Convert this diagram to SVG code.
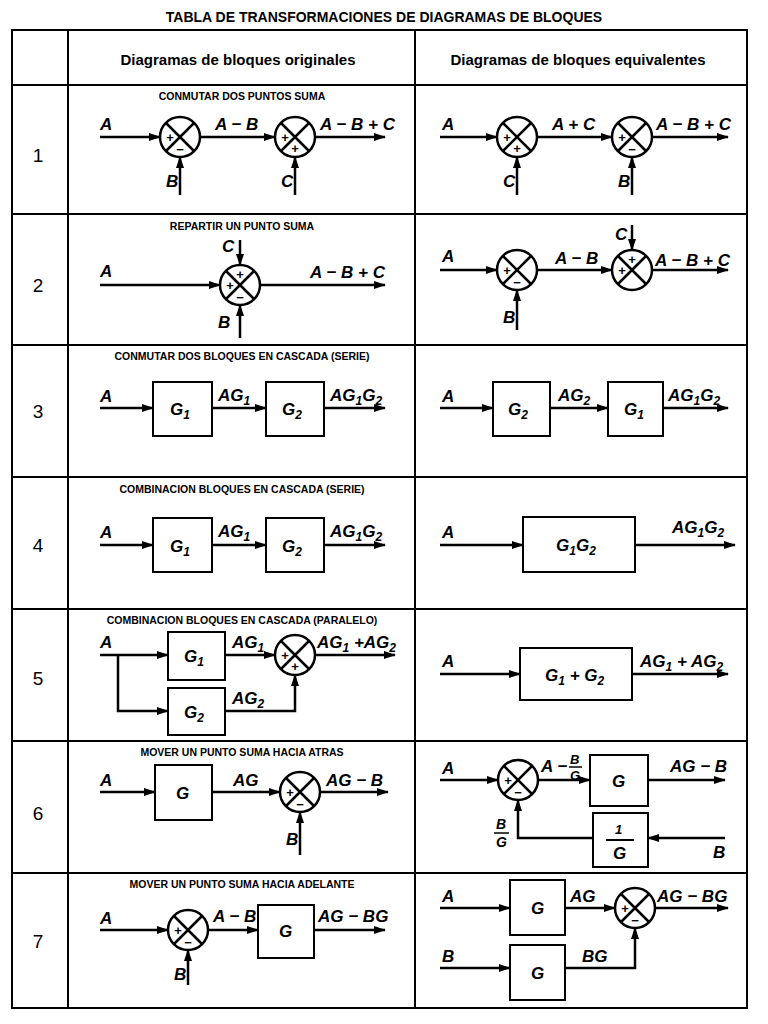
<svg xmlns="http://www.w3.org/2000/svg" width="768" height="1024" viewBox="0 0 768 1024">
<style>
.ln{stroke:#000;stroke-width:2.5;fill:none}
.bx{stroke:#000;stroke-width:2;fill:#fff}
.tb{stroke:#000;stroke-width:2;fill:none}
.l{font-family:"Liberation Sans",Arial,sans-serif;font-style:italic;font-weight:bold;font-size:17px;fill:#000}
.sg{font-family:"Liberation Sans",Arial,sans-serif;font-weight:bold;font-size:13px;fill:#000;text-anchor:middle}
.t{font-family:"Liberation Sans",Arial,sans-serif;font-weight:bold;font-size:10.5px;fill:#000;text-anchor:middle}
.h{font-family:"Liberation Sans",Arial,sans-serif;font-weight:bold;font-size:14px;fill:#000;text-anchor:middle}
.n{font-family:"Liberation Sans",Arial,sans-serif;font-size:19px;fill:#000;text-anchor:middle}
.s{font-size:12px}
</style>
<defs>
<marker id="ar" markerWidth="12" markerHeight="8" refX="11" refY="4" orient="auto" markerUnits="userSpaceOnUse"><path d="M0,0 L12,4 L0,8 Z" fill="#000"/></marker>
<symbol id="sum" viewBox="-21 -21 42 42" width="42" height="42" overflow="visible"><circle r="20" fill="#fff" stroke="#000" stroke-width="2.5"/><path d="M-14,-14 L14,14 M14,-14 L-14,14" stroke="#000" stroke-width="2.5"/></symbol>
</defs>
<rect width="768" height="1024" fill="#fff"/>
<text x="384" y="22" class="h">TABLA DE TRANSFORMACIONES DE DIAGRAMAS DE BLOQUES</text>
<g id="table" class="tb">
<rect x="12" y="30" width="735" height="978"/>
<line x1="68" y1="30" x2="68" y2="1008"/><line x1="415" y1="30" x2="415" y2="1008"/>
<line x1="12" y1="85" x2="747" y2="85"/><line x1="12" y1="214" x2="747" y2="214"/><line x1="12" y1="345" x2="747" y2="345"/><line x1="12" y1="477" x2="747" y2="477"/><line x1="12" y1="609" x2="747" y2="609"/><line x1="12" y1="741" x2="747" y2="741"/><line x1="12" y1="873" x2="747" y2="873"/>
</g>
<text x="238" y="65" class="h" style="font-size:15px">Diagramas de bloques originales</text>
<text x="578" y="65" class="h" style="font-size:15px">Diagramas de bloques equivalentes</text>
<g class="n"><text x="38" y="162">1</text><text x="38" y="292">2</text><text x="38" y="418">3</text><text x="38" y="552">4</text><text x="38" y="685">5</text><text x="38" y="820">6</text><text x="38" y="948">7</text></g>
<g class="t"><text x="242" y="100">CONMUTAR DOS PUNTOS SUMA</text><text x="242" y="230">REPARTIR UN PUNTO SUMA</text><text x="242" y="360">CONMUTAR DOS BLOQUES EN CASCADA (SERIE)</text><text x="242" y="493">COMBINACION BLOQUES EN CASCADA (SERIE)</text><text x="242" y="624">COMBINACION BLOQUES EN CASCADA (PARALELO)</text><text x="242" y="756">MOVER UN PUNTO SUMA HACIA ATRAS</text><text x="242" y="888">MOVER UN PUNTO SUMA HACIA ADELANTE</text></g>
<g id="connectors" class="ln" marker-end="url(#ar)">
<line x1="100" y1="137" x2="160" y2="137"/><line x1="200" y1="137" x2="275" y2="137"/><line x1="315" y1="137" x2="385" y2="137"/><line x1="180" y1="195" x2="180" y2="157"/><line x1="295" y1="195" x2="295" y2="157"/>
<line x1="440" y1="137" x2="497" y2="137"/><line x1="537" y1="137" x2="612" y2="137"/><line x1="652" y1="137" x2="728" y2="137"/><line x1="517" y1="195" x2="517" y2="157"/><line x1="632" y1="195" x2="632" y2="157"/>
<line x1="100" y1="285" x2="220" y2="285"/><line x1="260" y1="285" x2="385" y2="285"/><line x1="240" y1="240" x2="240" y2="265"/><line x1="240" y1="338" x2="240" y2="305"/>
<line x1="440" y1="270" x2="497" y2="270"/><line x1="537" y1="270" x2="612" y2="270"/><line x1="652" y1="270" x2="728" y2="270"/><line x1="517" y1="330" x2="517" y2="290"/><line x1="632" y1="225" x2="632" y2="250"/>
<line x1="100" y1="408" x2="153" y2="408"/><line x1="212" y1="408" x2="266" y2="408"/><line x1="324" y1="408" x2="385" y2="408"/>
<line x1="440" y1="408" x2="493" y2="408"/><line x1="550" y1="408" x2="608" y2="408"/><line x1="663" y1="408" x2="728" y2="408"/>
<line x1="100" y1="545" x2="153" y2="545"/><line x1="212" y1="545" x2="266" y2="545"/><line x1="324" y1="545" x2="385" y2="545"/>
<line x1="440" y1="545" x2="523" y2="545"/><line x1="635" y1="545" x2="735" y2="545"/>
<line x1="100" y1="655" x2="168" y2="655"/><polyline points="118,655 118,711 168,711"/><line x1="225" y1="655" x2="275" y2="655"/><polyline points="225,711 295,711 295,675"/><line x1="315" y1="655" x2="395" y2="655"/>
<line x1="440" y1="674" x2="520" y2="674"/><line x1="632" y1="674" x2="728" y2="674"/>
<line x1="100" y1="792" x2="155" y2="792"/><line x1="212" y1="792" x2="280" y2="792"/><line x1="320" y1="792" x2="388" y2="792"/><line x1="300" y1="855" x2="300" y2="812"/>
<line x1="440" y1="780" x2="498" y2="780"/><line x1="538" y1="780" x2="590" y2="780"/><line x1="648" y1="780" x2="725" y2="780"/><line x1="725" y1="838" x2="648" y2="838"/><polyline points="593,838 518,838 518,800"/>
<line x1="100" y1="930" x2="168" y2="930"/><line x1="208" y1="930" x2="258" y2="930"/><line x1="314" y1="930" x2="385" y2="930"/><line x1="188" y1="985" x2="188" y2="950"/>
<line x1="440" y1="908" x2="510" y2="908"/><line x1="565" y1="908" x2="615" y2="908"/><line x1="655" y1="908" x2="728" y2="908"/><line x1="440" y1="968" x2="510" y2="968"/><polyline points="565,968 635,968 635,928"/>
</g>
<g id="s1a"><use href="#sum" x="159" y="116"/><text class="sg" x="170" y="142">+</text><text class="sg" x="180" y="154">−</text></g>
<g id="s1b"><use href="#sum" x="274" y="116"/><text class="sg" x="285" y="142">+</text><text class="sg" x="295" y="153">+</text></g>
<g id="s1c"><use href="#sum" x="496" y="116"/><text class="sg" x="507" y="142">+</text><text class="sg" x="517" y="153">+</text></g>
<g id="s1d"><use href="#sum" x="611" y="116"/><text class="sg" x="622" y="142">+</text><text class="sg" x="632" y="154">−</text></g>
<g id="s2a"><use href="#sum" x="219" y="264"/><text class="sg" x="240" y="279">+</text><text class="sg" x="230" y="290">+</text><text class="sg" x="240" y="302">−</text></g>
<g id="s2b"><use href="#sum" x="496" y="249"/><text class="sg" x="507" y="275">+</text><text class="sg" x="517" y="287">−</text></g>
<g id="s2c"><use href="#sum" x="611" y="249"/><text class="sg" x="632" y="264">+</text><text class="sg" x="622" y="275">+</text></g>
<g id="s5"><use href="#sum" x="274" y="634"/><text class="sg" x="285" y="660">+</text><text class="sg" x="295" y="671">+</text></g>
<g id="s6a"><use href="#sum" x="279" y="771"/><text class="sg" x="290" y="797">+</text><text class="sg" x="300" y="809">−</text></g>
<g id="s6b"><use href="#sum" x="497" y="759"/><text class="sg" x="508" y="785">+</text><text class="sg" x="518" y="797">−</text></g>
<g id="s7a"><use href="#sum" x="167" y="909"/><text class="sg" x="178" y="935">+</text><text class="sg" x="188" y="947">−</text></g>
<g id="s7b"><use href="#sum" x="614" y="887"/><text class="sg" x="625" y="913">+</text><text class="sg" x="635" y="925">−</text></g>
<g id="b3a"><rect class="bx" x="153" y="382" width="59" height="54"/><text class="l" x="170" y="415">G<tspan class="s" dy="4">1</tspan></text></g>
<g id="b3b"><rect class="bx" x="266" y="382" width="58" height="54"/><text class="l" x="282" y="415">G<tspan class="s" dy="4">2</tspan></text></g>
<g id="b3c"><rect class="bx" x="493" y="382" width="57" height="54"/><text class="l" x="508" y="415">G<tspan class="s" dy="4">2</tspan></text></g>
<g id="b3d"><rect class="bx" x="608" y="382" width="55" height="54"/><text class="l" x="624" y="415">G<tspan class="s" dy="4">1</tspan></text></g>
<g id="b4a"><rect class="bx" x="153" y="518" width="59" height="54"/><text class="l" x="170" y="552">G<tspan class="s" dy="4">1</tspan></text></g>
<g id="b4b"><rect class="bx" x="266" y="518" width="58" height="54"/><text class="l" x="282" y="552">G<tspan class="s" dy="4">2</tspan></text></g>
<g id="b4c"><rect class="bx" x="523" y="517" width="112" height="55"/><text class="l" x="556" y="551">G<tspan class="s" dy="4">1</tspan><tspan dy="-4">G</tspan><tspan class="s" dy="4">2</tspan></text></g>
<g id="b5a"><rect class="bx" x="168" y="632" width="57" height="48"/><text class="l" x="184" y="662">G<tspan class="s" dy="4">1</tspan></text></g>
<g id="b5b"><rect class="bx" x="168" y="688" width="57" height="47"/><text class="l" x="184" y="718">G<tspan class="s" dy="4">2</tspan></text></g>
<g id="b5c"><rect class="bx" x="520" y="648" width="112" height="52"/><text class="l" x="545" y="681">G<tspan class="s" dy="4">1</tspan><tspan dy="-4"> + G</tspan><tspan class="s" dy="4">2</tspan></text></g>
<g id="b6a"><rect class="bx" x="155" y="765" width="57" height="55"/><text class="l" x="176" y="799">G</text></g>
<g id="b6b"><rect class="bx" x="590" y="755" width="58" height="51"/><text class="l" x="612" y="787">G</text></g>
<g id="b6c"><rect class="bx" x="593" y="813" width="55" height="54"/><text class="l" x="615" y="834" style="font-size:13px">1</text><line x1="606" y1="840" x2="634" y2="840" stroke="#000" stroke-width="2"/><text class="l" x="613" y="859">G</text></g>
<g id="b7a"><rect class="bx" x="258" y="905" width="56" height="53"/><text class="l" x="279" y="937">G</text></g>
<g id="b7b"><rect class="bx" x="510" y="880" width="55" height="55"/><text class="l" x="531" y="914">G</text></g>
<g id="b7c"><rect class="bx" x="510" y="945" width="55" height="55"/><text class="l" x="531" y="979">G</text></g>
<g class="l">
<text x="100" y="130">A</text><text x="215" y="130">A − B</text><text x="320" y="130">A − B + C</text><text x="166" y="187">B</text><text x="281" y="187">C</text>
<text x="442" y="130">A</text><text x="552" y="130">A + C</text><text x="656" y="130">A − B + C</text><text x="503" y="187">C</text><text x="618" y="187">B</text>
<text x="100" y="277">A</text><text x="222" y="252">C</text><text x="310" y="278">A − B + C</text><text x="218" y="328">B</text>
<text x="442" y="262">A</text><text x="555" y="264">A − B</text><text x="655" y="266">A − B + C</text><text x="503" y="323">B</text><text x="615" y="240">C</text>
<text x="100" y="402">A</text><text x="218" y="401">AG<tspan class="s" dy="4">1</tspan></text><text x="330" y="401">AG<tspan class="s" dy="4">1</tspan><tspan dy="-4">G</tspan><tspan class="s" dy="4">2</tspan></text>
<text x="442" y="402">A</text><text x="558" y="401">AG<tspan class="s" dy="4">2</tspan></text><text x="668" y="401">AG<tspan class="s" dy="4">1</tspan><tspan dy="-4">G</tspan><tspan class="s" dy="4">2</tspan></text>
<text x="100" y="538">A</text><text x="218" y="537">AG<tspan class="s" dy="4">1</tspan></text><text x="330" y="537">AG<tspan class="s" dy="4">1</tspan><tspan dy="-4">G</tspan><tspan class="s" dy="4">2</tspan></text>
<text x="442" y="538">A</text><text x="672" y="533">AG<tspan class="s" dy="4">1</tspan><tspan dy="-4">G</tspan><tspan class="s" dy="4">2</tspan></text>
<text x="100" y="648">A</text><text x="232" y="648">AG<tspan class="s" dy="4">1</tspan></text><text x="317" y="648">AG<tspan class="s" dy="4">1</tspan><tspan dy="-4"> +AG</tspan><tspan class="s" dy="4">2</tspan></text><text x="232" y="704">AG<tspan class="s" dy="4">2</tspan></text>
<text x="442" y="667">A</text><text x="640" y="667">AG<tspan class="s" dy="4">1</tspan><tspan dy="-4"> + AG</tspan><tspan class="s" dy="4">2</tspan></text>
<text x="100" y="786">A</text><text x="233" y="786">AG</text><text x="326" y="786">AG − B</text><text x="286" y="845">B</text>
<text x="442" y="774">A</text><text x="541" y="772">A −</text><text x="570" y="764" style="font-size:13px">B</text><line x1="569" y1="767" x2="582" y2="767" stroke="#000" stroke-width="1.5"/><text x="570" y="780" style="font-size:13px">G</text>
<text x="670" y="772">AG − B</text><text x="713" y="858">B</text>
<text x="496" y="829" style="font-size:14px">B</text><line x1="494" y1="833" x2="509" y2="833" stroke="#000" stroke-width="1.5"/><text x="496" y="847" style="font-size:14px">G</text>
<text x="100" y="924">A</text><text x="213" y="922">A − B</text><text x="318" y="922">AG − BG</text><text x="174" y="980">B</text>
<text x="442" y="902">A</text><text x="570" y="902">AG</text><text x="657" y="902">AG − BG</text><text x="442" y="962">B</text><text x="582" y="962">BG</text>
</g>
</svg>
